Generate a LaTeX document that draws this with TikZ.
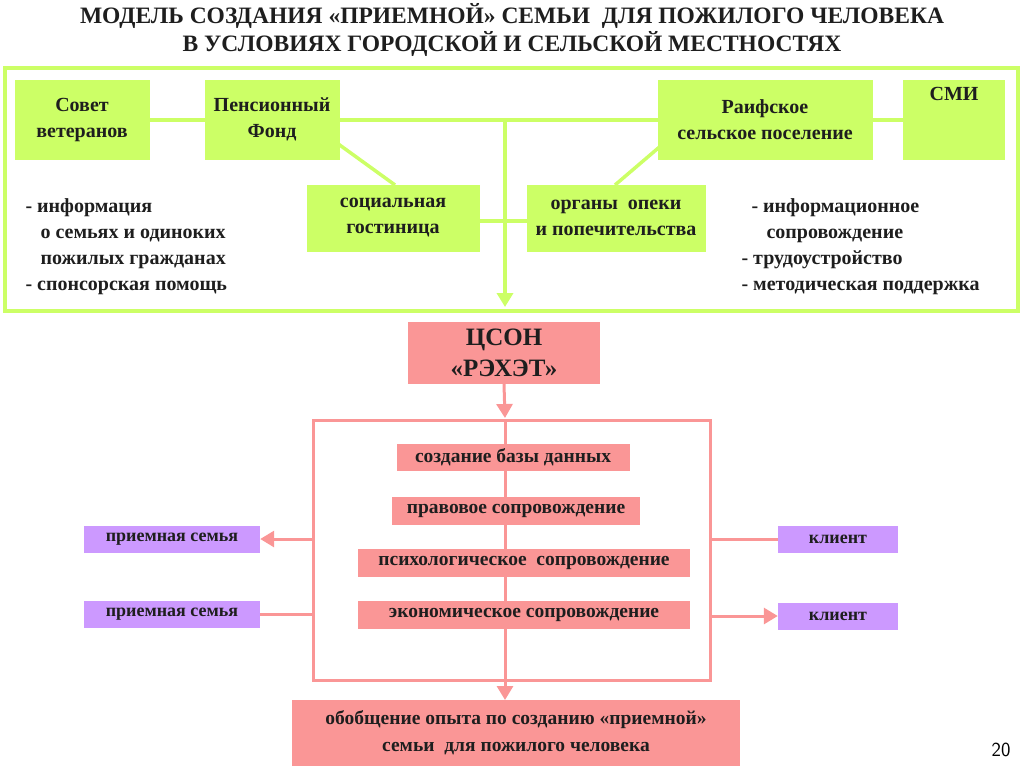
\documentclass[tikz,border=0pt]{standalone}
\usepackage{fontspec}
\setmainfont{Liberation Serif}
\usetikzlibrary{arrows.meta}
\definecolor{gr}{RGB}{204,255,102}
\definecolor{pk}{RGB}{250,150,150}
\definecolor{pu}{RGB}{204,153,255}
\definecolor{tx}{RGB}{30,30,30}
\newcommand{\dn}[1]{\raisebox{-2.5pt}{#1}}
\tikzset{
 gbox/.style={fill=gr,draw=none,text=tx,font=\bfseries\fontsize{20}{26}\selectfont,align=center,inner sep=0pt},
 pbox/.style={fill=pk,draw=none,text=tx,font=\bfseries\fontsize{19.5}{27}\selectfont,align=center,inner sep=0pt},
 vbox/.style={fill=pu,draw=none,text=tx,font=\bfseries\fontsize{18}{22}\selectfont,align=center,inner sep=0pt},
 gl/.style={draw=gr,line width=3.5pt},
 pl/.style={draw=pk,line width=3pt},
 txt/.style={text=tx,font=\bfseries\fontsize{20}{26}\selectfont,align=left,anchor=west},
}
\begin{document}
\begin{tikzpicture}[x=1pt,y=-1pt]
\useasboundingbox (0,0) rectangle (1024,768);
\node[text=tx,font=\bfseries\fontsize{23.5}{28}\selectfont,align=center] (title) at (512,30) {МОДЕЛЬ СОЗДАНИЯ «ПРИЕМНОЙ» СЕМЬИ \ ДЛЯ ПОЖИЛОГО ЧЕЛОВЕКА\\В УСЛОВИЯХ ГОРОДСКОЙ И СЕЛЬСКОЙ МЕСТНОСТЯХ};
\draw[gl] (5,68) rectangle (1018,311);
\coordinate (top) at (505,120);
\coordinate (bot) at (505,307);
\draw[gl] (150,120) -- (903,120);
\draw[gl,-{Triangle[length=14pt,width=16pt,fill=gr]}] (top) -- (bot);
\draw[gl] (330,138) -- (395,185);
\draw[gl] (670,138) -- (615,185);
\draw[gl] (480,221) -- (527,221);
\node[gbox,minimum width=135pt,minimum height=80pt] (sov) at (82,120) {Совет\\ветеранов};
\node[gbox,minimum width=135pt,minimum height=80pt] (pf) at (272,120) {Пенсионный\\Фонд\vphantom{g}};
\node[gbox,minimum width=215pt,minimum height=80pt] (raif) at (765,120) {Раифское\\сельское поселение};
\node[gbox,minimum width=102pt,minimum height=80pt] (smi) at (954,120) {СМИ\\[26pt]};
\node[gbox,minimum width=173pt,minimum height=67pt] (soc) at (393,218) {социальная\\гостиница};
\node[gbox,minimum width=179pt,minimum height=67pt] (org) at (616,218) {органы \ опеки\\и попечительства};
\node[txt] (lt) at (22,247) {- информация\\\ \ \ о семьях и одиноких\\\ \ \ пожилых гражданах\\- спонсорская помощь};
\node[txt] (rt) at (738,247) {\ \ - информационное\\\ \ \ \ \ сопровождение\\- трудоустройство\\- методическая поддержка};
\node[pbox,font=\bfseries\fontsize{25}{31}\selectfont,minimum width=192pt,minimum height=62pt] (cson) at (504,353) {ЦСОН\\«РЭХЭТ»};
\draw[pl] (313,420) rectangle (710,680);
\draw[pl,-{Triangle[length=14pt,width=16pt,fill=pk]}] (cson.south) -- (505,418);
\draw[pl,-{Triangle[length=14pt,width=16pt,fill=pk]}] (505,420) -- (505,700);
\node[pbox,minimum width=233pt,minimum height=27pt] (b1) at (513,457) {\dn{создание базы данных}};
\node[pbox,minimum width=248pt,minimum height=28pt] (b2) at (516,511) {\dn{правовое сопровождение}};
\node[pbox,minimum width=332pt,minimum height=28pt] (b3) at (524,563) {\dn{психологическое \ сопровождение}};
\node[pbox,minimum width=332pt,minimum height=28pt] (b4) at (524,615) {\dn{экономическое сопровождение}};
\node[vbox,minimum width=176pt,minimum height=27pt] (p1) at (172,539) {\dn{приемная семья}};
\node[vbox,minimum width=176pt,minimum height=27pt] (p2) at (172,614) {\dn{приемная семья}};
\node[vbox,minimum width=120pt,minimum height=27pt] (k1) at (838,539) {\dn{клиент}};
\node[vbox,minimum width=120pt,minimum height=27pt] (k2) at (838,616) {\dn{клиент}};
\draw[pl,-{Triangle[length=14pt,width=16pt,fill=pk]}] (313,539) -- (p1.east);
\draw[pl] (313,614) -- (p2.east);
\draw[pl] (710,539) -- (k1.west);
\draw[pl,-{Triangle[length=14pt,width=16pt,fill=pk]}] (710,616) -- (k2.west);
\node[pbox,minimum width=448pt,minimum height=66pt] (sum) at (516,733) {обобщение опыта по созданию «приемной»\\семьи \ для пожилого человека};
\node[font=\fontsize{20}{24}\selectfont\sffamily] (num) at (1001,750) {20};
\end{tikzpicture}
\end{document}
